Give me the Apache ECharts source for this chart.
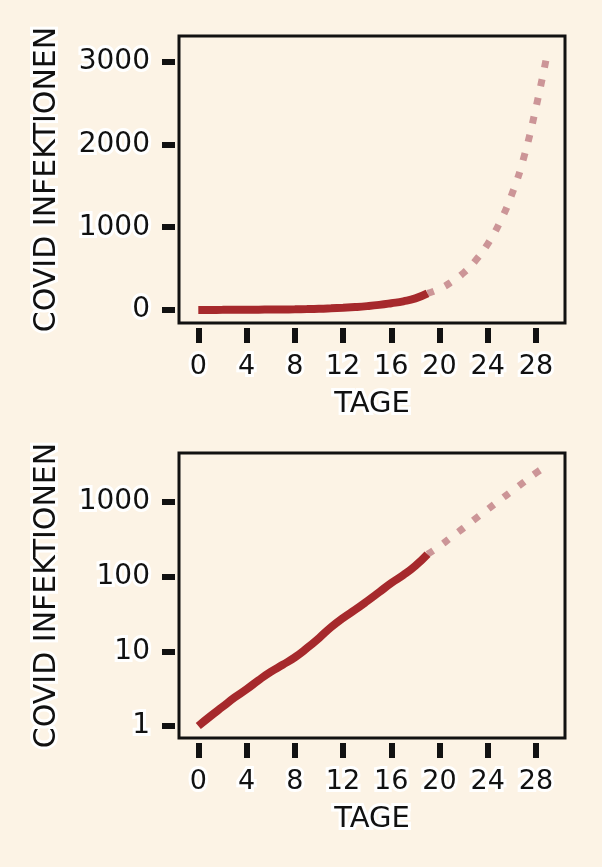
<!DOCTYPE html>
<html>
<head>
<meta charset="utf-8">
<title>Covid Infektionen</title>
<script src="https://cdn.jsdelivr.net/npm/echarts@6/dist/echarts.min.js"></script>
<style>
  html, body { margin: 0; padding: 0; background: #fcf3e5; }
  #box { width: 602px; height: 867px; }
</style>
</head>
<body>
<div id="box"></div>
<script>
// gemessene Fälle (Tag 0 bis 19)
const actualDays = [0, 1, 2, 3, 4, 5, 6, 7, 8, 9, 10, 11, 12, 13, 14, 15, 16, 17, 18, 19]
const actualCases = [1, 1.35, 1.8, 2.4, 3.1, 4.1, 5.3, 6.6, 8.3, 11, 15, 21, 28, 36, 47, 62, 82, 105, 140, 200]
// Prognose (Tag 19 bis 29)
const projDays = [19, 20, 21, 22, 23, 24, 25, 26, 27, 28, 29]
const projCases = [200, 255, 340, 450, 600, 800, 1060, 1400, 1850, 2450, 3150]

const xTicks = [0, 4, 8, 12, 16, 20, 24, 28]
const linTicks = [0, 1000, 2000, 3000]
const logTicks = [1, 10, 100, 1000]

const font = 'DejaVu Sans'
const ink = '#111'
const solidColor = '#a6292c'
const dotColor = '#cc9597'

const toPairs = (xs, ys) => xs.map((x, i) => [x, ys[i]])

const labelStyle = {
    fontFamily: font,
    fontSize: 27,
    color: ink,
    textBorderColor: '#fff',
    textBorderWidth: 6,
    formatter: v => String(v)
}
const nameStyle = {
    fontFamily: font,
    fontSize: 29,
    color: ink,
    textBorderColor: '#fff',
    textBorderWidth: 6
}

function xAxisFor(gridIndex) {
    return {
        gridIndex: gridIndex,
        type: 'value',
        min: -1.6,
        max: 30.4,
        offset: 5,
        name: 'TAGE',
        nameLocation: 'middle',
        nameGap: 62,
        nameTextStyle: nameStyle,
        axisLine: { show: false, onZero: false },
        splitLine: { show: false },
        axisTick: { show: true, inside: false, length: 15, customValues: xTicks, lineStyle: { color: ink, width: 6 } },
        axisLabel: Object.assign({ margin: 25, customValues: xTicks }, labelStyle)
    }
}

function yAxisFor(gridIndex, type, min, max, ticks) {
    return {
        gridIndex: gridIndex,
        type: type,
        min: min,
        max: max,
        offset: 4,
        name: 'COVID INFEKTIONEN',
        nameLocation: 'middle',
        nameGap: 110,
        nameTextStyle: Object.assign({}, nameStyle, { fontSize: 30 }),
        axisLine: { show: false, onZero: false },
        splitLine: { show: false },
        axisTick: { show: true, inside: false, length: 13, customValues: ticks, lineStyle: { color: ink, width: 6 } },
        axisLabel: Object.assign({ margin: 25, customValues: ticks }, labelStyle, { fontSize: 28 })
    }
}

function seriesFor(idx) {
    return [
        {
            type: 'line',
            xAxisIndex: idx,
            yAxisIndex: idx,
            data: toPairs(actualDays, actualCases),
            smooth: true,
            showSymbol: false,
            lineStyle: { color: solidColor, width: 8, cap: 'butt' },
            z: 3
        },
        {
            type: 'line',
            xAxisIndex: idx,
            yAxisIndex: idx,
            data: toPairs(projDays, projCases),
            smooth: true,
            showSymbol: false,
            lineStyle: { color: dotColor, width: 7, type: [7, 12], cap: 'butt' },
            z: 2
        }
    ]
}

var Chart = echarts.init(document.getElementById('box'))
var option = {
    animation: false,
    backgroundColor: '#fcf3e5',
    grid: [
        { left: 179, top: 36, width: 386, height: 287, show: true, borderColor: ink, borderWidth: 3, backgroundColor: 'transparent' },
        { left: 179, top: 453, width: 386, height: 285, show: true, borderColor: ink, borderWidth: 3, backgroundColor: 'transparent' }
    ],
    xAxis: [xAxisFor(0), xAxisFor(1)],
    yAxis: [
        yAxisFor(0, 'value', -157, 3310, linTicks),
        yAxisFor(1, 'log', 0.69, 4530, logTicks)
    ],
    series: seriesFor(0).concat(seriesFor(1))
}
Chart.setOption(option)
</script>
</body>
</html>
